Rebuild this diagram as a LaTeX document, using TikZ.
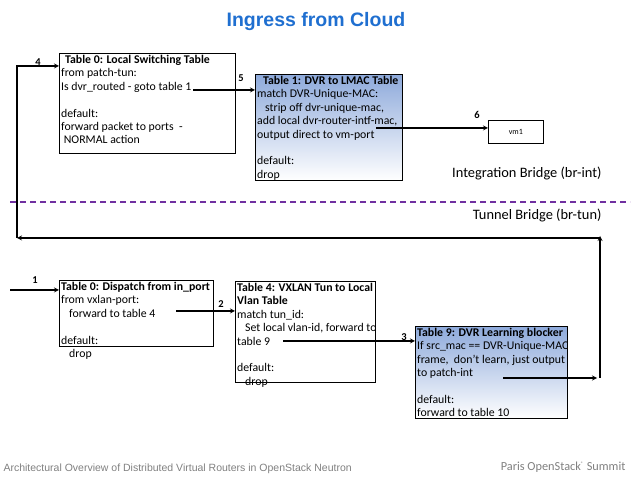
\documentclass[tikz,border=0pt]{standalone}
\usepackage{fontspec}
\setmainfont{Carlito}
\newfontfamily\hdfont{Liberation Sans}
\begin{document}
\begin{tikzpicture}[x=1pt,y=-1pt,
  box/.style={draw, line width=1.2pt, anchor=north west, inner sep=0pt},
  blu/.style={box, top color=bluetop, bottom color=white},
  txt/.style={anchor=north west, align=left, inner sep=2pt,
    font=\fontsize{11.8}{13.4}\selectfont},
  arr/.style={-stealth, line width=1.2pt},
  num/.style={font=\bfseries\fontsize{10.5}{11}\selectfont}
 ]
 \useasboundingbox (0,0) rectangle (638,478);
 \definecolor{ttl}{RGB}{31,111,208}
 \definecolor{purp}{RGB}{112,48,160}
 \definecolor{bluetop}{RGB}{142,170,219}

 \node[font=\hdfont\bfseries\fontsize{19.5}{22}\selectfont, text=ttl] (title) at (316,22) {Ingress from Cloud};

 % integration bridge
 \node[box, minimum width=176pt, minimum height=100pt] (t0) at (59,53) {};
 \node[txt] (t0x) at (t0.north west)
  {\hspace*{4pt}\textbf{Table 0: Local Switching Table}\\ from patch-tun:\\ Is dvr\_routed - goto table 1\\ \mbox{}\\
   default:\\ forward packet to ports\ \ -\\ \ NORMAL action};
 \node[blu, minimum width=147pt, minimum height=106pt] (t1) at (255,74) {};
 \node[txt] (t1x) at (t1.north west)
  {\hspace*{6pt}\textbf{Table 1: DVR to LMAC Table}\\ match DVR-Unique-MAC:\\ \hspace*{8pt}strip off dvr-unique-mac,\\
   add local dvr-router-intf-mac,\\ output direct to vm-port\\ \mbox{}\\ default:\\ drop};
 \node[draw, line width=0.6pt, minimum width=55pt, minimum height=23pt, anchor=north west,
   font=\fontsize{8}{9}\selectfont] (vm1) at (488,120) {vm1};

 \node[font=\fontsize{14.4}{16}\selectfont, anchor=east] (ib) at (605,173) {Integration Bridge (br-int)};
 \node[font=\fontsize{14.4}{16}\selectfont, anchor=east] (tb) at (605,215) {Tunnel Bridge (br-tun)};
 \coordinate (dl) at (10,202);
 \coordinate (dr) at (630,202);
 \draw[purp, line width=1.3pt, dash pattern=on 6pt off 4pt] (dl) -- (dr);

 % tunnel bridge
 \node[box, minimum width=154pt, minimum height=66pt] (d0) at (59,280) {};
 \node[txt] (d0x) at (d0.north west)
  {\textbf{Table 0: Dispatch from in\_port}\\ from vxlan-port:\\ \hspace*{8pt}forward to table 4\\ \mbox{}\\ default:\\ \hspace*{8pt}drop};
 \node[box, minimum width=140pt, minimum height=101pt] (t4) at (235,281) {};
 \node[txt] (t4x) at (t4.north west)
  {\textbf{Table 4: VXLAN Tun to Local}\\ \textbf{Vlan Table}\\ match tun\_id:\\ \hspace*{8pt}Set local vlan-id, forward to\\
   table 9\\ \mbox{}\\ default:\\ \hspace*{8pt}drop};
 \node[blu, minimum width=152pt, minimum height=92pt] (t9) at (415,326) {};
 \node[txt] (t9x) at (t9.north west)
  {\textbf{Table 9: DVR Learning blocker}\\ If src\_mac == DVR-Unique-MAC\\ frame,\ \ don't learn, just output\\
   to patch-int\\ \mbox{}\\ default:\\ forward to table 10};

 % connectors
 \coordinate (s1) at (10,290);
 \coordinate (s2) at (176,311);
 \coordinate (s3) at (283,341);
 \coordinate (s9) at (503,378);
 \coordinate (c9) at (600,378);
 \coordinate (c9t) at (600,238);
 \coordinate (cl) at (17,238);
 \coordinate (ct) at (17,66);
 \coordinate (s5) at (193,90);
 \coordinate (s6) at (376,128);
 \draw[arr] (s1) -- (s1 -| d0.west);
 \draw[arr] (s2) -- (s2 -| t4.west);
 \draw[arr] (s3) -- (s3 -| t9.west);
 \draw[arr] (s9) -- ([xshift=-3pt]c9);
 \draw[arr] (c9) -- ([yshift=2pt]c9t);
 \draw[arr] (c9t) -- (cl);
 \draw[arr] (cl) -- (ct) -- (ct -| t0.west);
 \draw[arr] (s5) -- (s5 -| t1.west);
 \draw[arr] (s6) -- (s6 -| vm1.west);

 \node[num] (n1) at (35,280) {1};
 \node[num] (n2) at (221,304) {2};
 \node[num] (n3) at (404,337) {3};
 \node[num] (n4) at (38,62) {4};
 \node[num] (n5) at (241,78) {5};
 \node[num] (n6) at (477,115) {6};

 \node[anchor=west, text=gray, font=\hdfont\fontsize{10.5}{11}\selectfont] (ft) at (0,469)
  {Architectural Overview of Distributed Virtual Routers in OpenStack Neutron};
 \node[anchor=east, text=gray, font=\fontsize{12.3}{13}\selectfont] (fr) at (629,467)
  {Paris OpenStack\textsuperscript{\tiny\textregistered} Summit};
\end{tikzpicture}
\end{document}
